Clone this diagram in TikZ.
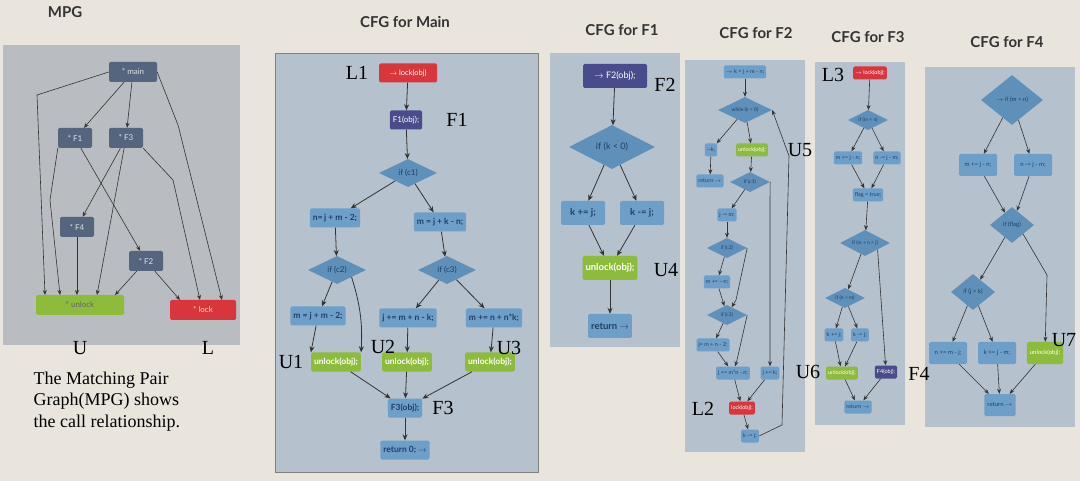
\documentclass[tikz,border=0pt]{standalone}
\usepackage{fontspec}
\setmainfont{Liberation Serif}
\newfontfamily\sans{Lato}
\usetikzlibrary{shapes.geometric,arrows.meta}
\definecolor{bg}{HTML}{E9E5DD}
\definecolor{panel}{HTML}{B5C1CD}
\definecolor{mpanel}{HTML}{B9BDC1}
\definecolor{bbox}{HTML}{6E9FC8}
\definecolor{dia}{HTML}{5F90BA}
\definecolor{grn}{HTML}{8DBB3C}
\definecolor{rd}{HTML}{D8353D}
\definecolor{pur}{HTML}{4A4B8A}
\definecolor{mnode}{HTML}{56657E}
\definecolor{txt}{HTML}{1E3F66}
\tikzset{
 pnl/.style={fill=panel,draw=none},
 box/.style={fill=bbox,rounded corners=1.5pt,inner sep=3pt,minimum height=19pt,font=\sans\bfseries\fontsize{8.5}{9}\selectfont,text=txt},
 sbox/.style={box,minimum height=13pt,font=\sans\fontsize{5.5}{6}\selectfont,inner sep=2pt},
 gbox/.style={box,fill=grn,text=white},
 sgbox/.style={sbox,fill=grn,text=white},
 rbox/.style={box,fill=rd,text=white,font=\sans\fontsize{7.5}{8}\selectfont},
 srbox/.style={sbox,fill=rd,text=white},
 pbox/.style={box,fill=pur,text=white,font=\sans\fontsize{8}{9}\selectfont},
 spbox/.style={sbox,fill=pur,text=white},
 dm/.style={diamond,fill=dia,aspect=2,inner sep=1pt,minimum width=58pt,minimum height=28pt,font=\sans\fontsize{8}{9}\selectfont,text=txt},
 sdm/.style={dm,minimum width=40pt,minimum height=20pt,font=\sans\fontsize{5}{6}\selectfont,inner sep=0.5pt},
 mn/.style={fill=mnode,rounded corners=1.5pt,minimum height=20pt,inner sep=2pt,font=\sans\fontsize{8}{9}\selectfont,text=white!80!mnode},
 ar/.style={-{Stealth[length=6pt,width=5pt]},draw=black!80,line width=0.8pt},
 sar/.style={-{Stealth[length=5pt,width=4pt]},draw=black!80,line width=0.6pt},
 lab/.style={font=\fontsize{20}{22}\selectfont},
 ttl/.style={font=\sans\bfseries\fontsize{15}{17}\selectfont,text=black!80},
}
\begin{document}
\begin{tikzpicture}[x=1pt,y=-1pt]
\fill[bg] (0,0) rectangle (1080,481);
\useasboundingbox (0,0) rectangle (1080,481);
% titles
\node[ttl] (t0) at (65,12) {MPG};
\node[ttl] (t1) at (405,22) {CFG for Main};
\node[ttl] (t2) at (622,30) {CFG for F1};
\node[ttl] (t3) at (756,33) {CFG for F2};
\node[ttl] (t4) at (868,37) {CFG for F3};
\node[ttl] (t5) at (1007,42) {CFG for F4};
% panels
\fill[mpanel] (3,45) rectangle (240,345);
\fill[pnl,draw=black!50,line width=0.5pt] (275,53) rectangle (538,472);
\fill[pnl] (550,53) rectangle (680,347);
\fill[pnl] (685,60) rectangle (805,452);
\fill[pnl] (815,62) rectangle (905,425);
\fill[pnl] (925,67) rectangle (1075,427);
% ---------- MPG
\node[mn,minimum width=48pt] (main) at (133,72) {* main};
\node[mn,minimum width=34pt] (mF1) at (75,138) {* F1};
\node[mn,minimum width=34pt] (mF3) at (126,138) {* F3};
\node[mn,minimum width=34pt] (mF4) at (77,227) {* F4};
\node[mn,minimum width=34pt] (mF2) at (146,261) {* F2};
\node[mn,fill=grn,minimum width=88pt,text=black!60] (unl) at (80,305) {\textdegree\ unlock};
\node[mn,fill=rd,minimum width=66pt,text=white!80!rd] (lck) at (203,310) {* lock};
\draw[sar] (main.west) -- (37,95) -- (45,295);
\draw[sar] (main) -- (mF1);
\draw[sar] (main) -- (mF3);
\draw[sar] (main.east) -- (178,125) -- (222,300);
\draw[sar] (mF1.south west) -- (50,200) -- (60,295);
\draw[sar] (mF1) -- (mF2);
\draw[sar] (mF3) -- (mF4);
\draw[sar] (mF3) -- (97,295);
\draw[sar] (mF3.south east) -- (173,180) -- (200,300);
\draw[sar] (mF4) -- (77,295);
\draw[sar] (mF2) -- (115,295);
\draw[sar] (mF2) -- (180,300);
\node[lab] (U) at (80,348) {U};
\node[lab] (L) at (208,348) {L};
\node[lab,align=left,anchor=north west,font=\fontsize{18}{21.5}\selectfont] (cap) at (30,368) {The Matching Pair\\Graph(MPG) shows\\the call relationship.};
% ---------- Main
\node[rbox,minimum width=58pt] (lock1) at (408,73) {$\rightarrow$ lock(obj)};
\node[lab] (L1) at (357,73) {L1};
\node[pbox] (f1c) at (406,120) {F1(obj);};
\node[lab] (F1l) at (457,120) {F1};
\node[dm] (c1) at (408,173) {if (c1)};
\node[box] (a1) at (335,218) {n=\,j + m - 2;};
\node[box] (a2) at (440,222) {m = j + k - n;};
\node[dm] (c2) at (337,270) {if (c2)};
\node[dm] (c3) at (447,270) {if (c3)};
\node[box] (a3) at (318,316) {m = j + m - 2;};
\node[box] (a4) at (408,318) {j += m + n - k;};
\node[box] (a5) at (494,318) {m += n + n*k;};
\node[gbox] (u1) at (336,362) {unlock(obj);};
\node[gbox] (u2) at (407,362) {unlock(obj);};
\node[gbox] (u3) at (490,362) {unlock(obj);};
\node[lab] (U1l) at (291,362) {U1};
\node[lab] (U2l) at (383,347) {U2};
\node[lab] (U3l) at (509,348) {U3};
\node[box] (f3c) at (405,408) {F3(obj);};
\node[lab] (F3l) at (443,408) {F3};
\node[box] (r0) at (405,450) {return 0; $\rightarrow$};
\draw[ar] (lock1) -- (f1c);
\draw[ar] (f1c) -- (c1);
\draw[ar] (c1) -- (a1);
\draw[ar] (c1) -- (a2);
\draw[ar] (a1) -- (c2);
\draw[ar] (a2) -- (c3);
\draw[ar] (c2) -- (a3);
\draw[ar] (c2.south east) to[bend left=10] (u1.north east);
\draw[ar] (c3) -- (a4);
\draw[ar] (c3) -- (a5);
\draw[ar] (a3) -- (u1.north west);
\draw[ar] (a4) -- (u2);
\draw[ar] (a5) -- (u3);
\draw[ar] (u1) -- (f3c);
\draw[ar] (u2) -- (f3c);
\draw[ar] (u3) -- (f3c);
\draw[ar] (f3c) -- (r0);
% ---------- F1
\node[pbox,minimum width=64pt,minimum height=24pt,font=\sans\fontsize{9}{10}\selectfont] (f2c) at (615,76) {$\rightarrow$ F2(obj);};
\node[lab] (F2l) at (665,85) {F2};
\node[dm,minimum width=86pt,minimum height=44pt,font=\sans\fontsize{9}{10}\selectfont] (k0) at (612,147) {if (k < 0)};
\node[box,minimum height=24pt,minimum width=44pt,font=\sans\bfseries\fontsize{9.5}{10}\selectfont] (kp) at (583,213) {k += j;};
\node[box,minimum height=24pt,minimum width=44pt,font=\sans\bfseries\fontsize{9.5}{10}\selectfont] (km) at (642,213) {k -= j;};
\node[gbox,minimum height=24pt,font=\sans\bfseries\fontsize{9.5}{10}\selectfont] (u4) at (610,268) {unlock(obj);};
\node[lab] (U4l) at (666,270) {U4};
\node[box,minimum height=24pt,font=\sans\bfseries\fontsize{9.5}{10}\selectfont] (r1) at (610,326) {return $\rightarrow$};
\draw[ar] (f2c) -- (k0);
\draw[ar] (k0) -- (kp);
\draw[ar] (k0) -- (km);
\draw[ar] (kp) -- (u4);
\draw[ar] (km) -- (u4);
\draw[ar] (u4) -- (r1);
% ---------- F2
\node[sbox] (b0) at (745,72) {$\rightarrow$ k = j + m - n;};
\node[sdm,minimum width=54pt,minimum height=26pt] (wh) at (745,110) {while (k > 0)};
\node[sbox] (dk) at (711,150) {--k;};
\node[sgbox] (u5) at (752,150) {unlock(obj);};
\node[lab] (U5l) at (800,150) {U5};
\node[sbox] (r2) at (710,181) {return $\rightarrow$};
\node[sdm] (d1) at (750,182) {if (c1)};
\node[sbox] (b1) at (727,215) {j -= m;};
\node[sdm] (d2) at (727,248) {if (c2)};
\node[sbox] (b2) at (717,282) {m += --n;};
\node[sdm] (d3) at (727,315) {if (c3)};
\node[sbox] (b3) at (713,345) {j= m + n - 2;};
\node[sbox] (b4) at (733,373) {j += m*n - n;};
\node[sbox] (b5) at (770,373) {j += k;};
\node[srbox] (l2) at (742,408) {lock(obj);};
\node[lab] (L2l) at (703,409) {L2};
\node[sbox] (b6) at (750,436) {k -= j;};
\draw[sar] (b0) -- (wh);
\draw[sar] (wh) -- (dk);
\draw[sar] (wh) -- (u5);
\draw[sar] (dk) -- (r2);
\draw[sar] (u5) -- (d1);
\draw[sar] (d1) -- (b1);
\draw[sar] (d1.east) -- (770,200) -- (b5);
\draw[sar] (b1) -- (d2);
\draw[sar] (d2) -- (b2);
\draw[sar] (d2.east) -- (736,300) -- (d3);
\draw[sar] (b2) -- (d3);
\draw[sar] (d3) -- (b3);
\draw[sar] (d3.east) -- (737,360) -- (b4);
\draw[sar] (b3) -- (b4);
\draw[sar] (b4) -- (l2);
\draw[sar] (b5) -- (l2);
\draw[sar] (l2) -- (b6);
\draw[sar] (b6.east) -- (782,425) -- (789,156) -- (wh.east);
% ---------- F3
\node[srbox] (l3) at (870,73) {$\rightarrow$ lock(obj);};
\node[lab] (L3l) at (833,75) {L3};
\node[sdm] (e1) at (868,120) {if (m < n)};
\node[sbox] (g1) at (848,158) {m += j - n;};
\node[sbox] (g2) at (887,158) {n -= j - m;};
\node[sbox] (g3) at (868,195) {flag = true;};
\node[sdm,minimum width=50pt,minimum height=26pt] (e2) at (865,243) {if (m + n > j)};
\node[sdm] (e3) at (845,298) {if (n < m)};
\node[sbox] (g4) at (834,335) {k += j;};
\node[sbox] (g5) at (860,335) {k -= j;};
\node[sgbox] (u6) at (842,373) {unlock(obj);};
\node[lab] (U6l) at (808,372) {U6};
\node[spbox] (f4c) at (886,372) {F4(obj);};
\node[lab] (F4l) at (919,374) {F4};
\node[sbox] (r3) at (858,407) {return $\rightarrow$};
\draw[sar] (l3) -- (e1);
\draw[sar] (e1) -- (g1);
\draw[sar] (e1) -- (g2);
\draw[sar] (g1) -- (g3);
\draw[sar] (g2) -- (g3);
\draw[sar] (g3) -- (e2);
\draw[sar] (e2) -- (e3);
\draw[sar] (e2.south east) -- (f4c);
\draw[sar] (e3) -- (g4);
\draw[sar] (e3) -- (g5);
\draw[sar] (g4) -- (u6);
\draw[sar] (g5) -- (u6);
\draw[sar] (u6) -- (r3);
\draw[sar] (f4c) -- (r3);
% ---------- F4
\node[dm,minimum width=62pt,minimum height=50pt,aspect=1.2,font=\sans\fontsize{6}{7}\selectfont] (h1) at (1012,100) {$\rightarrow$ if (m < n)};
\node[box,font=\sans\fontsize{6}{7}\selectfont,minimum height=22pt,minimum width=38pt] (k1) at (978,165) {m += j - n;};
\node[box,font=\sans\fontsize{6}{7}\selectfont,minimum height=22pt,minimum width=38pt] (k2) at (1033,165) {n -= j - m;};
\node[dm,minimum width=44pt,minimum height=36pt,aspect=1.2,font=\sans\fontsize{6}{7}\selectfont] (h2) at (1012,225) {if (flag)};
\node[dm,minimum width=44pt,minimum height=36pt,aspect=1.2,font=\sans\fontsize{6}{7}\selectfont] (h3) at (973,292) {if (j > k)};
\node[box,font=\sans\fontsize{6}{7}\selectfont,minimum height=22pt,minimum width=38pt] (k3) at (948,353) {n += m - j;};
\node[box,font=\sans\fontsize{6}{7}\selectfont,minimum height=22pt,minimum width=38pt] (k4) at (997,353) {k += j - m;};
\node[gbox,font=\sans\fontsize{6}{7}\selectfont,minimum height=22pt] (u7) at (1045,353) {unlock(obj);};
\node[lab] (U7l) at (1064,340) {U7};
\node[box,font=\sans\fontsize{6}{7}\selectfont,minimum height=22pt] (r4) at (1000,405) {return $\rightarrow$};
\draw[sar] (h1) -- (k1);
\draw[sar] (h1) -- (k2);
\draw[sar] (k1) -- (h2);
\draw[sar] (k2) -- (h2);
\draw[sar] (h2) -- (h3);
\draw[sar] (h2.south east) -- (1047,275) -- (u7);
\draw[sar] (h3) -- (k3);
\draw[sar] (h3) -- (k4);
\draw[sar] (k3) -- (r4);
\draw[sar] (k4) -- (r4);
\draw[sar] (u7) -- (r4);
\end{tikzpicture}
\end{document}
